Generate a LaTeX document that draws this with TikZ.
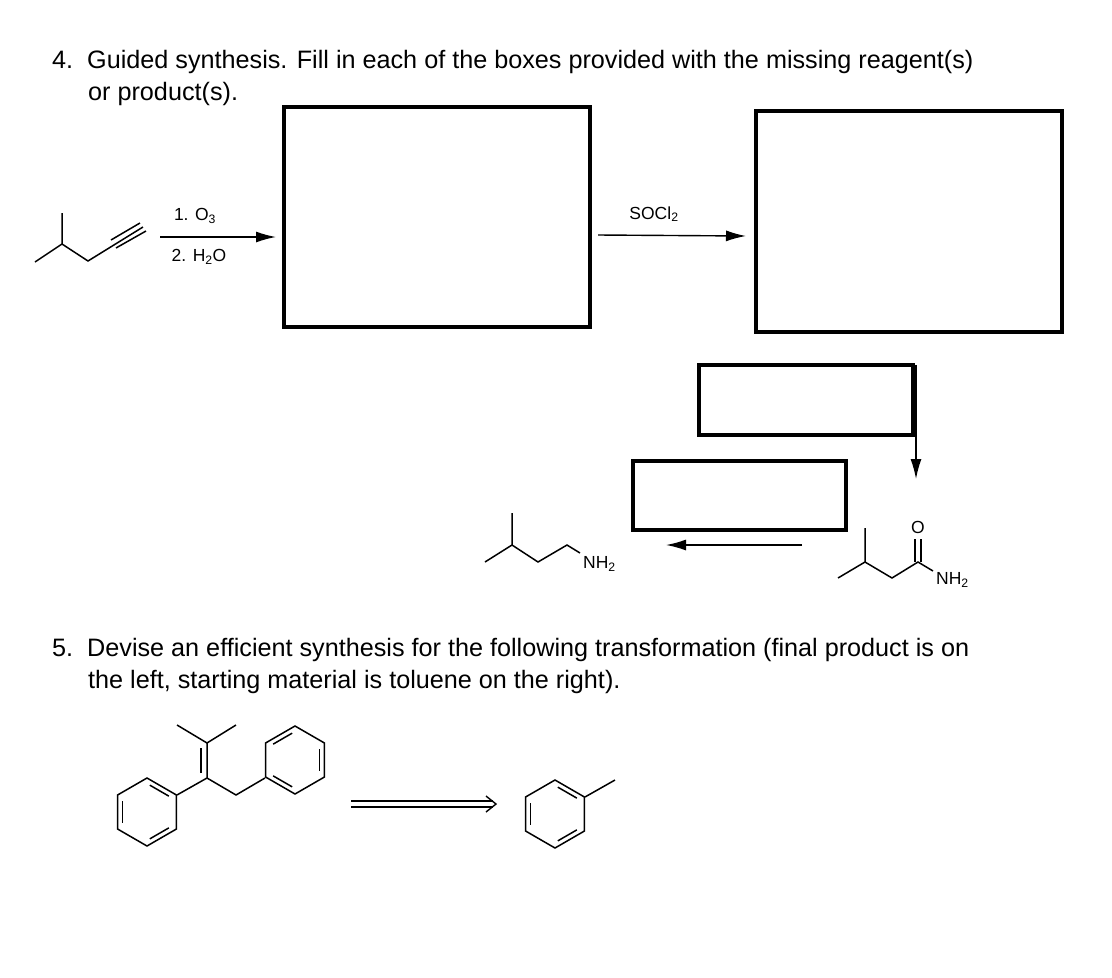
\documentclass[tikz,border=0pt]{standalone}
\usepackage{fontspec}
\setmainfont{Liberation Sans}
\usetikzlibrary{arrows.meta}
\tikzset{bond/.style={line width=1.5pt},
 box/.style={draw,line width=3.6pt,inner sep=0pt},
 rxn/.style={line width=1.4pt,-{Latex[length=20pt,width=11pt]}},
 big/.style={font=\fontsize{25.2}{30}\selectfont,anchor=base west,inner sep=0pt},
 lab/.style={font=\fontsize{17.5}{20}\selectfont,inner sep=0pt}}
\newcommand\hexring[2]{%
 \draw[bond] ([shift={(-90:34)}]#1)--([shift={(-30:34)}]#1)--([shift={(30:34)}]#1)--([shift={(90:34)}]#1)--([shift={(150:34)}]#1)--([shift={(210:34)}]#1)--cycle;
 \foreach \a in {#2}{\draw[bond] ([shift={(\a+6:27)}]#1)--([shift={(\a+54:27)}]#1);}}
\begin{document}
\begin{tikzpicture}[x=1pt,y=-1pt]
\useasboundingbox (0,0) rectangle (1112,978);
\node[big] (t1) at (52,68) {4.\ \ Guided synthesis. Fill in each of the boxes provided with the missing reagent(s)};
\node[big] (t2) at (88,100) {or product(s).};
\node[big] (t3) at (52,656) {5.\ \ Devise an efficient synthesis for the following transformation (final product is on};
\node[big] (t4) at (88,688) {the left, starting material is toluene on the right).};
% alkyne
\draw[bond] (62,213)--(62,244)--(35,262);
\draw[bond] (62,244)--(88,261)--(143,227);
\draw[bond] (111,240)--(140,223);
\draw[bond] (116,248)--(146,231);
% boxes
\node[box,minimum width=306,minimum height=220] (b1) at (437,217) {};
\node[box,minimum width=306,minimum height=221] (b2) at (909,221.5) {};
\node[box,minimum width=214,minimum height=70] (b3) at (806,400) {};
\node[box,minimum width=213,minimum height=69] (b4) at (739.5,495.5) {};
% arrows
\coordinate (a1s) at (160,237); \coordinate (a1e) at (276,237);
\draw[rxn] (a1s)--(a1e);
\node[lab] (o3) at (195,216) {1. O\textsubscript{3}};
\node[lab] (h2o) at (199,257) {2. H\textsubscript{2}O};
\coordinate (a2s) at (598,235); \coordinate (a2e) at (746,236);
\draw[rxn] (a2s)--(a2e);
\node[lab] (socl) at (654,214) {SOCl\textsubscript{2}};
\coordinate (a3s) at (916,365); \coordinate (a3e) at (916,479);
\draw[rxn] (a3s)--(a3e);
\coordinate (a4s) at (802,545); \coordinate (a4e) at (666,545);
\draw[rxn] (a4s)--(a4e);
% amine
\draw[bond] (512,513)--(512,545)--(485,562);
\draw[bond] (512,545)--(538,562)--(567,545)--(580,553);
\node[lab,anchor=west] (nh2a) at (583,564) {NH\textsubscript{2}};
% amide
\draw[bond] (865,528)--(865,562)--(838,578);
\draw[bond] (865,562)--(892,578)--(918,562)--(933,571);
\draw[bond] (915,562)--(915,539); \draw[bond] (921,562)--(921,539);
\node[lab] (o) at (918,527) {O};
\node[lab,anchor=west] (nh2b) at (936,580) {NH\textsubscript{2}};
% bottom molecule
\coordinate (r1) at (147,812); \coordinate (r2) at (295,760); \coordinate (r3) at (555,814);
\hexring{r1}{-90,150,30}
\hexring{r2}{210,-30,90}
\hexring{r3}{-90,150,30}
\draw[bond] (177,795)--(207,778)--(207,743);
\draw[bond] (201,773)--(201,748);
\draw[bond] (177,725)--(207,743)--(236,725);
\draw[bond] (207,778)--(236,795)--(265,778);
\draw[bond] (585,797)--(615,780);
% retro arrow
\draw[line width=1.4pt] (351,801)--(493,801);
\draw[line width=1.4pt] (351,807)--(493,807);
\draw[line width=1.4pt] (486,796)--(496,804)--(486,812);
\end{tikzpicture}
\end{document}
